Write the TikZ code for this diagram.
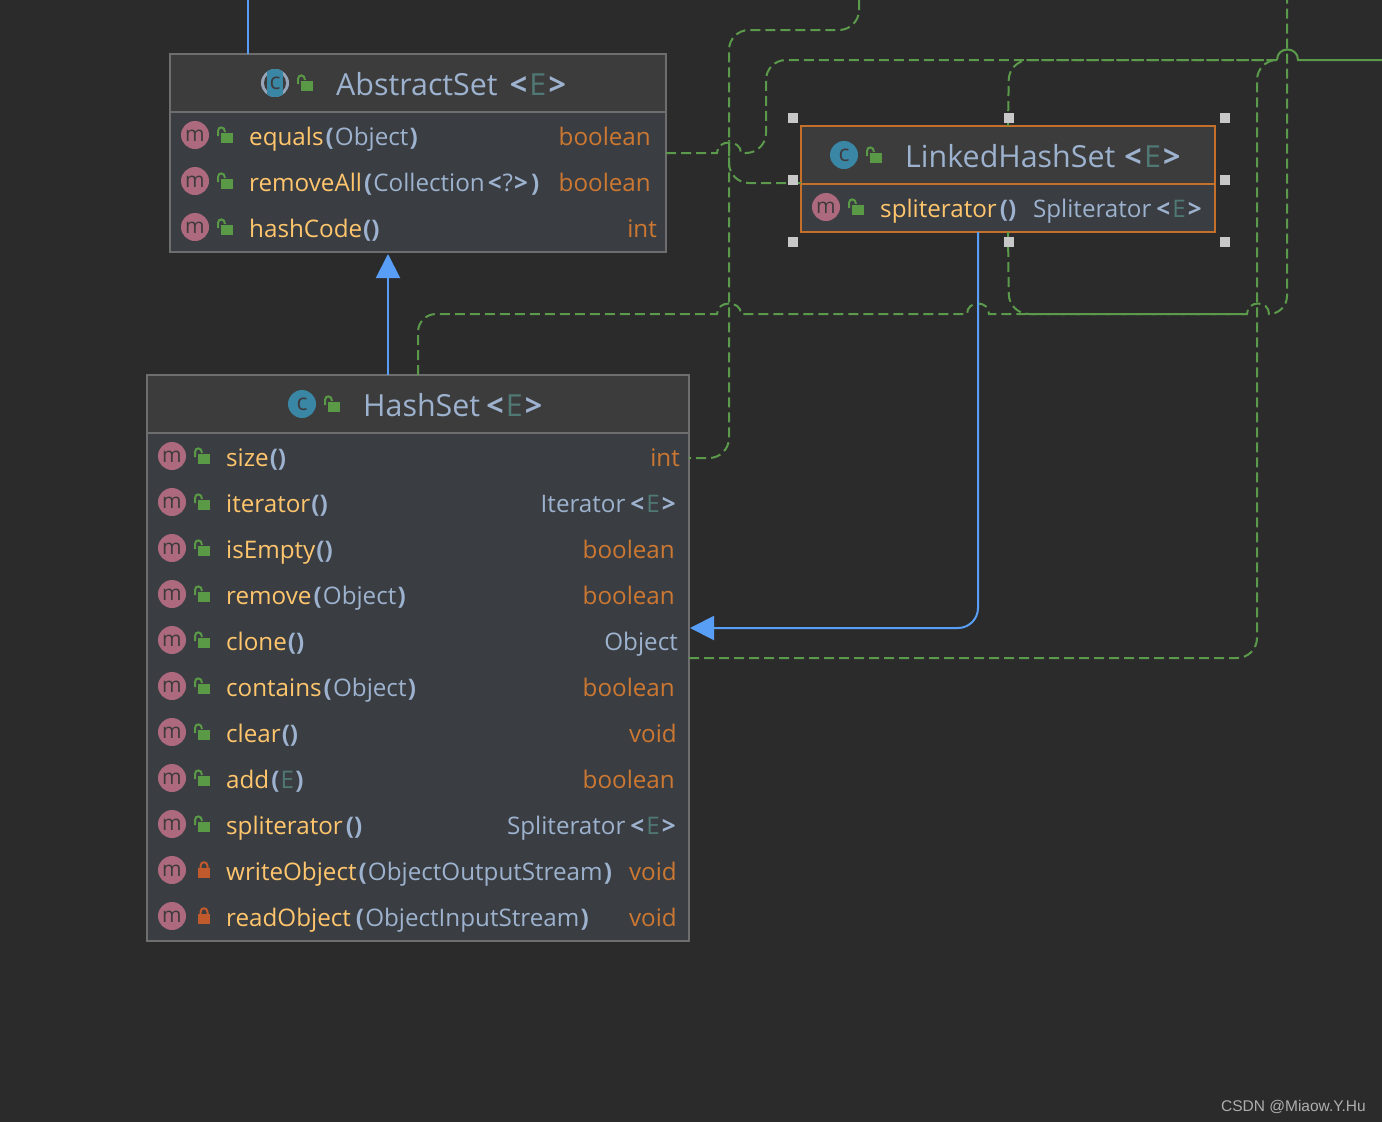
\documentclass[tikz,border=0pt]{standalone}
\usepackage{fontspec}
\setmainfont{Open Sans}
\newfontfamily\markfont{Liberation Sans}
\usetikzlibrary{arrows.meta}
\definecolor{canvasc}{HTML}{2B2B2B}
\definecolor{headc}{HTML}{3C3C3C}
\definecolor{bodyc}{HTML}{3A3D41}
\definecolor{edgec}{HTML}{6E6E6E}
\definecolor{pickc}{HTML}{C4702B}
\definecolor{namec}{HTML}{FFC66D}
\definecolor{paramc}{HTML}{9DB2CE}
\definecolor{typec}{HTML}{CC7832}
\definecolor{genc}{HTML}{507874}
\definecolor{methc}{HTML}{AD6A7E}
\definecolor{clsc}{HTML}{3A87A5}
\definecolor{inkc}{HTML}{3E3A3E}
\definecolor{lockg}{HTML}{5A9A46}
\definecolor{lockr}{HTML}{C0592B}
\definecolor{extc}{HTML}{589DF6}
\definecolor{depc}{HTML}{5B9A4B}
\definecolor{handlec}{HTML}{C8C8C8}
\newcommand{\mname}[1]{\textcolor{namec}{#1}}
\newcommand{\mpar}[1]{\textcolor{paramc}{\kern2pt\textbf{(}\kern1.2pt#1\kern1.2pt\textbf{)}}}
\newcommand{\mnone}{\textcolor{paramc}{\kern1pt\textbf{()}}}
\newcommand{\mtype}[1]{\textcolor{paramc}{#1}}
\newcommand{\mret}[1]{\textcolor{typec}{#1}}
\newcommand{\mgen}{\textcolor{paramc}{\textbf{<}}\kern2.2pt\textcolor{genc}{E}\kern2.2pt\textcolor{paramc}{\textbf{>}}}
\tikzset{
  classbox/.style={draw=edgec, fill=bodyc, line width=1.3pt, inner sep=0pt, outer sep=0pt},
  micon/.style={circle, fill=methc, text=inkc, inner sep=0pt, minimum size=28pt, text height=12pt, text depth=0pt, font=\fontsize{21}{21}\selectfont},
  cicon/.style={circle, fill=clsc, text=inkc, inner sep=0pt, minimum size=28pt, text height=12pt, text depth=0pt, font=\fontsize{23}{23}\selectfont},
  rowtext/.style={anchor=base west, inner sep=0pt, font=\fontsize{24.2}{28}\selectfont},
  rettext/.style={anchor=base east, inner sep=0pt, font=\fontsize{24.2}{28}\selectfont},
  titletext/.style={anchor=base west, inner sep=0pt, text=paramc, font=\fontsize{30.4}{34}\selectfont},
  handle/.style={fill=handlec, inner sep=0pt, minimum size=10pt},
  extline/.style={extc, line width=2pt},
  depline/.style={depc, line width=2pt, dash pattern=on 10pt off 5pt},
  openlock/.pic={
    \fill[lockg] (26,-2) rectangle (38,8);
    \draw[lockg, line width=2pt] (23,1) -- (23,-4) .. controls (23,-9) and (30,-9) .. (30,-3);
  },
  shutlock/.pic={
    \fill[lockr] (26,-2) rectangle (38,8);
    \draw[lockr, line width=2pt] (28.5,-2) -- (28.5,-4) .. controls (28.5,-9) and (35.5,-9) .. (35.5,-4) -- (35.5,-2);
  },
}
% name, icon x, icon y, lock, label, return type, right edge
\newcommand{\memberrow}[7]{
  \node[micon] (#1Icon) at (#2,#3) {m};
  \pic at (#2,#3) {#4};
  \node[rowtext] (#1Label) at (#2+54,#3+10) {#5};
  \node[rettext] (#1Type) at (#7,#3+10) {#6};
}
\begin{document}
\begin{tikzpicture}[x=1pt, y=-1pt, >={Triangle[length=24pt, width=24pt]}]
    \useasboundingbox (0,0) rectangle (1382,1122);
    \fill[canvasc] (0,0) rectangle (1382,1122);
    % --- class boxes first, so the connectors can name them ---
    \node[classbox, minimum width=496pt, minimum height=198pt] (abstractSet) at (418,153) {};
    \node[classbox, minimum width=542pt, minimum height=566pt] (hashSet) at (418,658) {};
    \node[classbox, draw=pickc, minimum width=414pt, minimum height=106pt] (linkedSet) at (1008,179) {};
    % --- free ends at the picture edge ---
    \coordinate (upperEnd) at (859,0);
    \coordinate (riserEnd) at (1287,0);
    \coordinate (parentUp) at (248,0);
    \coordinate (busEnd) at (1382,60);
    % --- dashed connectors, hops where they cross ---
    \draw[depline, rounded corners=20pt]
      (upperEnd) -- (859,30) -- (729,30) -- (729,458) -- ([yshift=200pt]hashSet.east);
    \draw[depline, rounded corners=20pt]
      ([yshift=-4pt]linkedSet.west) -- (729,183) -- (729,140);
    \draw[depline]
      (abstractSet.east) -- (717,153) .. controls (717,139) and (741,139) .. (741,153)
      [rounded corners=20pt] -- (766,153) -- (766,60) -- (1277,60);
    \draw[depline, rounded corners=20pt]
      (linkedSet.north) -- (1009,60) -- (1277,60);
    \draw[depline, rounded corners=20pt]
      (linkedSet.south) -- (1009,314) -- (1247,314);
    \draw[depline, rounded corners=20pt]
      (hashSet.east) -- (1257,658) -- (1257,60) -- (1277,60);
    \draw[depline, rounded corners=18pt]
      (hashSet.north) -- (418,314) -- (600,314) [sharp corners] -- (717,314)
      .. controls (717,300) and (741,300) .. (741,314) -- (967,314)
      .. controls (967,300) and (989,300) .. (989,314) -- (1247,314)
      .. controls (1247,300) and (1269,300) .. (1269,314)
      [rounded corners=18pt] -- (1287,314) -- (riserEnd);
    \draw[depc, line width=2pt]
      (1277,60) .. controls (1277,46) and (1298,46) .. (1298,60) -- (busEnd);
    % --- inheritance lines ---
    \draw[extline] ([xshift=-170pt]abstractSet.north) -- (parentUp);
    \draw[extline, ->, shorten >=2pt] ([xshift=-30pt]hashSet.north) -- ([xshift=-30pt]abstractSet.south);
    \draw[extline, ->, rounded corners=20pt, shorten >=1pt]
      ([xshift=-30pt]linkedSet.south) -- (978,628) -- ([yshift=30pt]hashSet.east);
    % --- headers ---
    \fill[headc] (171,55) rectangle (665,111);
    \draw[edgec, line width=1.3pt] (170,112) -- (666,112);
    \fill[headc] (148,376) rectangle (688,432);
    \draw[edgec, line width=1.3pt] (147,433) -- (689,433);
    \fill[headc] (802,127) rectangle (1214,183);
    \draw[pickc, line width=1.3pt] (801,184) -- (1215,184);
    % --- AbstractSet ---
    \fill[paramc!75!gray] (275,83) circle (14pt);
    \fill[headc] (275,83) circle (11pt);
    \begin{scope}
      \clip (275,83) circle (14pt);
      \fill[clsc] (267,69) rectangle (283,97);
    \end{scope}
    \node[inner sep=0pt, text=inkc, text height=12pt, text depth=0pt, font=\fontsize{23}{23}\selectfont] (abstractIcon) at (275,83) {c};
    \pic at (275,83) {openlock};
    \node[titletext] (abstractTitle) at (336,95) {AbstractSet\kern0.4em\mgen};
    \memberrow{equals}{195}{135}{openlock}{\mname{equals}\mpar{Object}}{\mret{boolean}}{651}
    \memberrow{removeAll}{195}{181}{openlock}{\mname{removeAll}\mpar{Collection\kern3pt\textbf{<}\kern1pt?\kern1pt\textbf{>}\kern2pt}}{\mret{boolean}}{651}
    \memberrow{hashCode}{195}{227}{openlock}{\mname{hashCode}\mnone}{\mret{int}}{657}
    % --- HashSet ---
    \node[cicon] (hashIcon) at (302,404) {c};
    \pic at (302,404) {openlock};
    \node[titletext] (hashTitle) at (363,416) {HashSet\kern0.2em\mgen};
    \memberrow{size}{172}{456}{openlock}{\mname{size}\mnone}{\mret{int}}{680}
    \memberrow{iterator}{172}{502}{openlock}{\mname{iterator}\mnone}{\mtype{Iterator}\kern0.2em\mgen}{676}
    \memberrow{isEmpty}{172}{548}{openlock}{\mname{isEmpty}\mnone}{\mret{boolean}}{675}
    \memberrow{remove}{172}{594}{openlock}{\mname{remove}\mpar{Object}}{\mret{boolean}}{675}
    \memberrow{clone}{172}{640}{openlock}{\mname{clone}\mnone}{\mtype{Object}}{678}
    \memberrow{contains}{172}{686}{openlock}{\mname{contains}\mpar{Object}}{\mret{boolean}}{675}
    \memberrow{clear}{172}{732}{openlock}{\mname{clear}\mnone}{\mret{void}}{677}
    \memberrow{add}{172}{778}{openlock}{\mname{add}\mpar{\textcolor{genc}{E}}}{\mret{boolean}}{675}
    \memberrow{split}{172}{824}{openlock}{\mname{spliterator}\kern2pt\mnone}{\mtype{Spliterator}\kern0.2em\mgen}{676}
    \memberrow{write}{172}{870}{shutlock}{\mname{writeObject}\mpar{ObjectOutputStream}}{\mret{void}}{677}
    \memberrow{read}{172}{916}{shutlock}{\mname{readObject}\kern3pt\mpar{ObjectInputStream}}{\mret{void}}{677}
    % --- LinkedHashSet and its selection handles ---
    \node[cicon] (linkedIcon) at (844,155) {c};
    \pic at (844,155) {openlock};
    \node[titletext] (linkedTitle) at (905,167) {LinkedHashSet\kern0.3em\mgen};
    \memberrow{linkedSplit}{826}{207}{openlock}{\mname{spliterator}\kern2pt\mnone}{\mtype{Spliterator}\kern0.2em\mgen}{1202}
    \foreach \hx/\hy [count=\hi] in {793/118,1009/118,1225/118,793/180,1225/180,793/242,1009/242,1225/242}
      \node[handle] (handle\hi) at (\hx,\hy) {};
    % --- watermark ---
    \node[anchor=base east, inner sep=0pt, text=white!62!canvasc, font=\markfont\fontsize{15.5}{18}\selectfont] (markText) at (1366,1111) {CSDN @Miaow.Y.Hu};
  \end{tikzpicture}
\end{document}
